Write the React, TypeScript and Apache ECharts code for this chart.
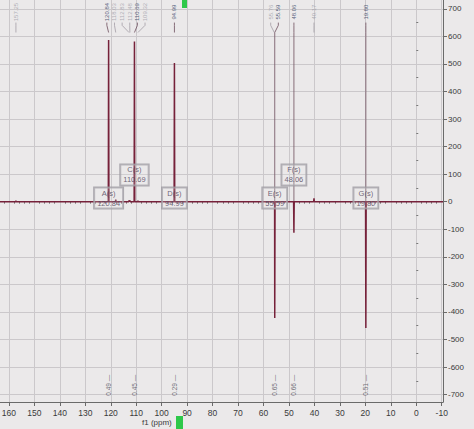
import React, { useEffect, useRef } from "react";
import * as echarts from "echarts";

// ---- data ----
const peakNames = ["A", "C", "D", "E", "F", "G"];
const peakShifts = [120.84, 110.69, 94.99, 55.59, 48.06, 19.8];
const peakHeights = [587, 581, 503, -422, -113, -458];
const peakIntegrals = [0.49, 0.45, 0.29, 0.65, 0.66, 0.51];
const minorShifts = [157.25, 118.03, 112.83, 112.48, 109.32, 55.76, 40.17];
const minorHeights = [3, 8, 5, 5, 4, -6, 12];
const xTicks = [160, 150, 140, 130, 120, 110, 100, 90, 80, 70, 60, 50, 40, 30, 20, 10, 0, -10];
const yTicks = [700, 600, 500, 400, 300, 200, 100, 0, -100, -200, -300, -400, -500, -600, -700];

const X_MIN = -10.5;
const X_MAX = 163.5;
const Y_MIN = -727;
const Y_MAX = 732;
const FONT = "Liberation Sans, DejaVu Sans, sans-serif";

function buildOption() {
  const all = peakShifts
    .map((p, i) => ({ p, h: peakHeights[i] }))
    .concat(minorShifts.map((p, i) => ({ p, h: minorHeights[i] })))
    .sort((a, b) => b.p - a.p);
  const w = 0.12;
  const spectrum: number[][] = [[X_MAX, 0]];
  all.forEach(({ p, h }) => {
    spectrum.push([p + w, 0], [p, h], [p - w, 0]);
  });
  spectrum.push([X_MIN, 0]);

  // top label de-overlap: spread labels that are too close
  const S = 3;
  const labels = all.map((d) => ({ p: d.p, major: peakShifts.indexOf(d.p) >= 0 }));
  let groups = labels.map((l) => ({ items: [l], center: l.p }));
  let merged = true;
  while (merged) {
    merged = false;
    for (let i = 0; i < groups.length - 1; i++) {
      const a = groups[i];
      const b = groups[i + 1];
      const aBottom = a.center - ((a.items.length - 1) / 2) * S;
      const bTop = b.center + ((b.items.length - 1) / 2) * S;
      if (aBottom - bTop < S) {
        const items = a.items.concat(b.items);
        const center = items.reduce((s, it) => s + it.p, 0) / items.length;
        groups.splice(i, 2, { items, center });
        merged = true;
        break;
      }
    }
  }
  const topLabels: any[] = [];
  const leaders: any[] = [];
  groups.forEach((g) => {
    g.items.forEach((it, k) => {
      const lx = g.center + ((g.items.length - 1) / 2 - k) * S;
      topLabels.push({
        value: [lx, 688],
        label: { color: it.major ? "#2f3a60" : "#a09da8" },
        txt: it.p.toFixed(2),
      });
      const coords: number[][] = [
        [lx, 650],
        [lx, 640],
        [it.p, 614],
      ];
      const mi = peakShifts.indexOf(it.p);
      if (mi >= 0 && peakHeights[mi] < 0) coords.push([it.p, 0]);
      leaders.push({
        coords,
        lineStyle: { color: it.major ? "#7a5f6c" : "#aaa5ad" },
      });
    });
  });

  // peak boxes: raise a box when the previous peak is close
  const boxes: any[] = [];
  let prevRaised = false;
  peakShifts.forEach((p, i) => {
    const raised = i > 0 && peakShifts[i - 1] - p < 12 && !prevRaised;
    prevRaised = raised;
    boxes.push({ value: [p, raised ? 97 : 13], txt: `${peakNames[i]}(s)\n${p.toFixed(2)}` });
  });

  const integrals = peakShifts.map((p, i) => ({
    value: [p, -666],
    txt: `${peakIntegrals[i].toFixed(2)} —`,
  }));

  return {
    animation: false,
    backgroundColor: "#ebe9ea",
    grid: {
      left: 0,
      right: 31,
      top: 0,
      bottom: 27,
      containLabel: false,
      outerBoundsMode: "none",
    },
    xAxis: [
      {
        type: "value",
        inverse: true,
        min: X_MIN,
        max: X_MAX,
        position: "bottom",
        axisLine: { show: true, onZero: false, lineStyle: { color: "#6a6a6a", width: 1 } },
        axisTick: { show: true, length: 4, customValues: xTicks, lineStyle: { color: "#6a6a6a" } },
        axisLabel: {
          customValues: xTicks,
          fontSize: 8.5,
          color: "#3a3a3a",
          fontFamily: FONT,
          margin: 6,
        },
        splitLine: { show: true, lineStyle: { color: "#cbc8cb", width: 1 } },
      },
      {
        type: "value",
        inverse: true,
        min: X_MIN,
        max: X_MAX,
        position: "bottom",
        axisLine: { show: false },
        axisTick: {
          show: true,
          length: 2,
          customValues: xTicks.flatMap((t) => [t + 2, t + 4, t + 6, t + 8]).filter((v) => v < X_MAX),
          lineStyle: { color: "#7a7a7a" },
        },
        axisLabel: { show: false },
        splitLine: { show: false },
      },
    ],
    yAxis: [
      {
        type: "value",
        min: Y_MIN,
        max: Y_MAX,
        position: "right",
        axisLine: { show: true, onZero: false, lineStyle: { color: "#6a6a6a", width: 1 } },
        axisTick: { show: true, length: 4, customValues: yTicks, lineStyle: { color: "#6a6a6a" } },
        axisLabel: {
          customValues: yTicks,
          fontSize: 8,
          color: "#3a3a3a",
          fontFamily: FONT,
          margin: 5,
        },
        splitLine: { show: true, lineStyle: { color: "#cbc8cb", width: 1 } },
      },
      {
        type: "value",
        min: Y_MIN,
        max: Y_MAX,
        position: "right",
        axisLine: { show: false },
        axisTick: {
          show: true,
          length: 2,
          customValues: yTicks.slice(1).map((t) => t + 50),
          lineStyle: { color: "#7a7a7a" },
        },
        axisLabel: { show: false },
        splitLine: { show: false },
      },
    ],
    series: [
      {
        type: "line",
        data: spectrum,
        showSymbol: false,
        symbol: "none",
        lineStyle: { color: "#76213a", width: 1.5 },
        z: 3,
        silent: true,
      },
      {
        type: "lines",
        coordinateSystem: "cartesian2d",
        polyline: true,
        data: leaders,
        lineStyle: { width: 0.9, opacity: 1 },
        z: 2,
        silent: true,
      },
      {
        type: "scatter",
        data: topLabels,
        symbolSize: 1,
        itemStyle: { color: "rgba(0,0,0,0)" },
        label: {
          show: true,
          position: "inside",
          rotate: 90,
          fontSize: 6,
          fontFamily: FONT,
          formatter: (p: any) => p.data.txt,
        },
        z: 4,
        silent: true,
      },
      {
        type: "scatter",
        data: boxes,
        symbolSize: 1,
        itemStyle: { color: "rgba(0,0,0,0)" },
        label: {
          show: true,
          position: "inside",
          fontSize: 7.5,
          lineHeight: 10,
          fontFamily: FONT,
          color: "#4e4258",
          borderColor: "#9c99a0",
          borderWidth: 1,
          padding: [1, 3, 0, 3],
          backgroundColor: "rgba(236,234,235,0.25)",
          align: "center",
          formatter: (p: any) => p.data.txt,
        },
        z: 5,
        silent: true,
      },
      {
        type: "scatter",
        data: integrals,
        symbolSize: 1,
        itemStyle: { color: "rgba(0,0,0,0)" },
        label: {
          show: true,
          position: "inside",
          rotate: 90,
          fontSize: 6.5,
          fontFamily: FONT,
          color: "#4f4d58",
          formatter: (p: any) => p.data.txt,
        },
        z: 4,
        silent: true,
      },
    ],
    graphic: [
      {
        type: "text",
        left: 142,
        top: 418,
        style: { text: "f1 (ppm)", fontSize: 8, fontFamily: FONT, fill: "#3a3a3a" },
      },
      { type: "rect", left: 176, top: 416, shape: { width: 7, height: 13 }, style: { fill: "#2ec84a" } },
      { type: "rect", left: 182, top: 0, shape: { width: 6, height: 8 }, style: { fill: "#2ec84a" } },
    ],
  };
}

export default function App() {
  const ref = useRef<HTMLDivElement>(null);
  useEffect(() => {
    if (!ref.current) return;
    const chart = echarts.init(ref.current, undefined, { renderer: "svg" });
    chart.setOption(buildOption() as any);
    return () => chart.dispose();
  }, []);
  return (
    <div
      ref={ref}
      style={{ position: "fixed", left: 0, top: 0, width: 474, height: 429 }}
    />
  );
}
